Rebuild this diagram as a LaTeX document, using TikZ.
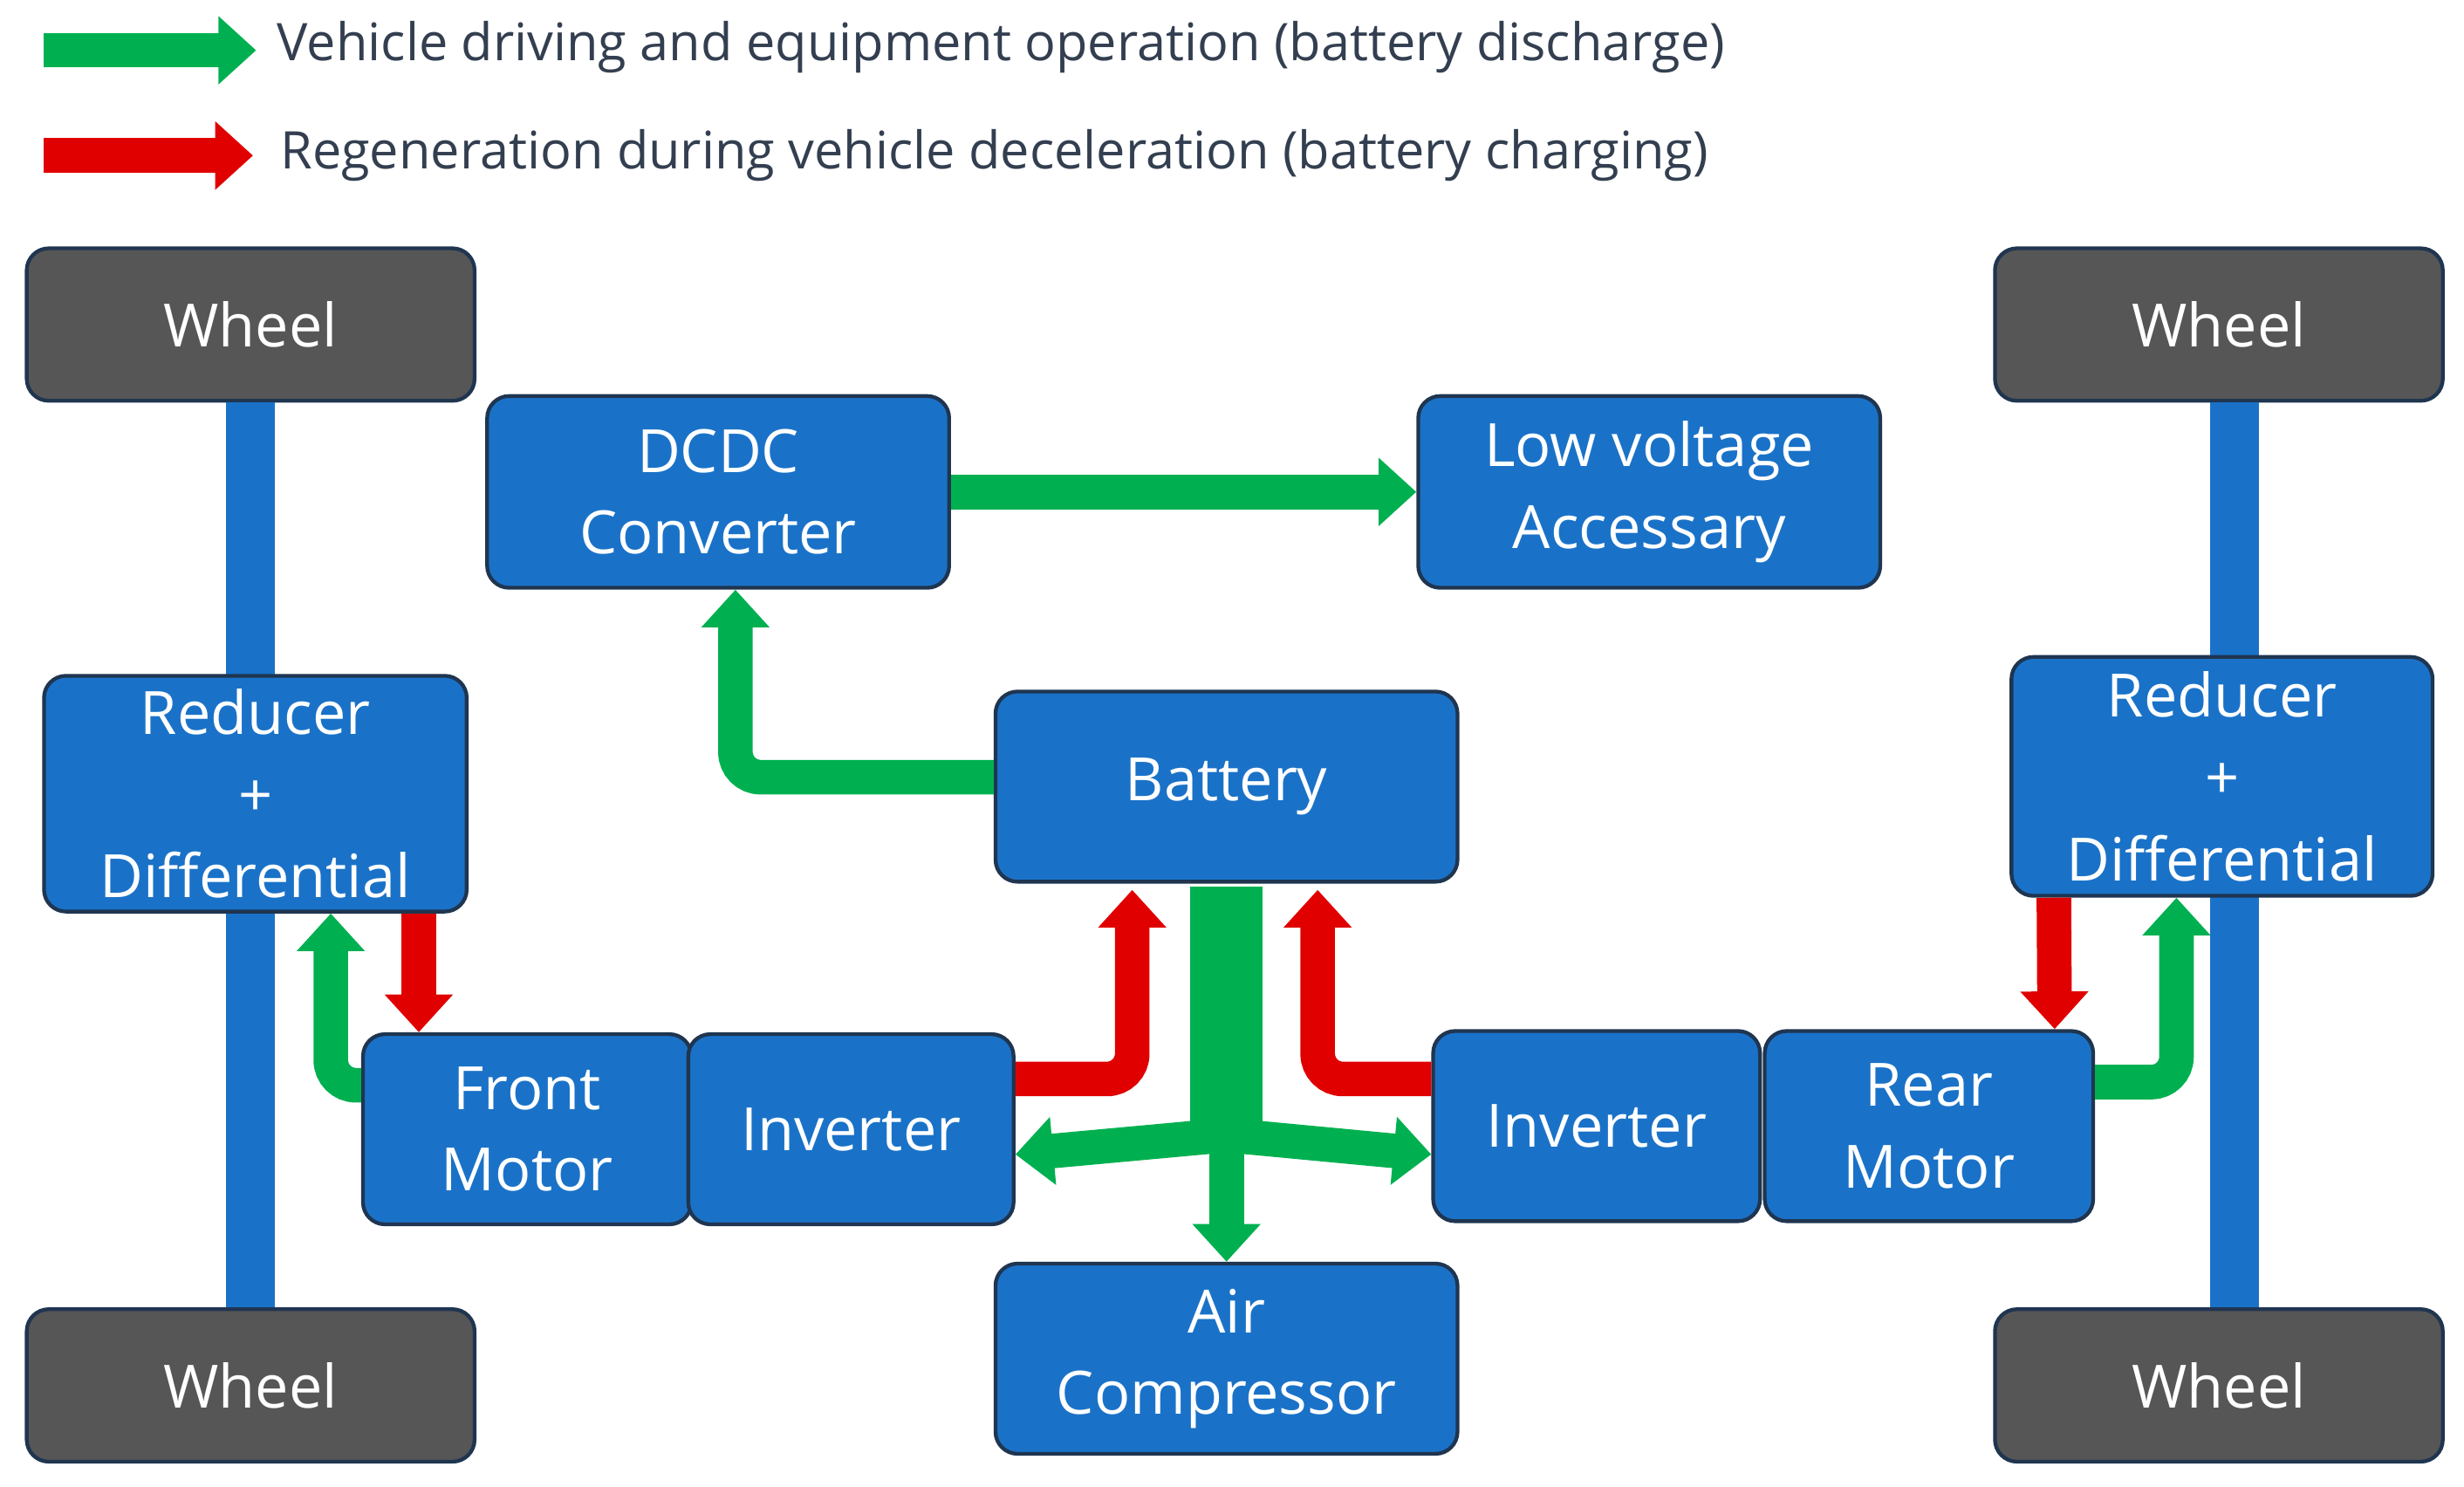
\documentclass[tikz,border=0pt]{standalone}
\usepackage{fontspec}
\setmainfont{Open Sans}
\usetikzlibrary{arrows.meta,calc}
\definecolor{bx}{HTML}{1A72C8}
\definecolor{bd}{HTML}{1F3550}
\definecolor{wh}{HTML}{565656}
\definecolor{gr}{HTML}{00B050}
\definecolor{rd}{HTML}{E00000}
\definecolor{tx}{HTML}{333F50}
\begin{document}
\begin{tikzpicture}[x=0.5pt,y=-0.5pt,
 box/.style={draw=bd,line width=1.2pt,fill=bx,rounded corners=7pt,text=white,align=center,font=\fontsize{19}{26}\selectfont,inner sep=0pt},
 whl/.style={box,fill=wh},
 g/.style={draw=gr,line width=11pt,rounded corners=8pt,-{Triangle[width=21pt,length=12pt]}},
 r/.style={g,draw=rd},
 axle/.style={draw=bx,line width=15.5pt}]
\useasboundingbox (0,0) rectangle (1568,946);
% wheels
\node[whl,minimum width=142.5pt,minimum height=48.5pt] (wtl) at (159.5,206.5) {Wheel};
\node[whl,minimum width=142.5pt,minimum height=48.5pt] (wbl) at (159.5,881.5) {Wheel};
\node[whl,minimum width=142.5pt,minimum height=48.5pt] (wtr) at (1412,206.5) {Wheel};
\node[whl,minimum width=142.5pt,minimum height=48.5pt] (wbr) at (1412,881.5) {Wheel};
\draw[axle] (wtl.south) -- (wbl.north);
\draw[axle] ($(wtr.south)+(10,0)$) -- ($(wbr.north)+(10,0)$);
\node[box,minimum width=134.5pt,minimum height=75pt] (rl) at (162.5,505) {Reducer\\+\\Differential};
\node[box,minimum width=134pt,minimum height=76pt] (rr) at (1414,494) {Reducer\\+\\Differential};
\node[box,minimum width=147pt,minimum height=61pt] (dc) at (457,313) {DCDC\\Converter};
\node[box,minimum width=147pt,minimum height=61pt] (lv) at (1049.5,313) {Low voltage\\Accessary};
\node[box,minimum width=147pt,minimum height=60.5pt] (bat) at (780.5,500.5) {Battery};
\node[box,minimum width=147pt,minimum height=60.5pt] (air) at (780.5,864.5) {Air\\Compressor};
\node[box,minimum width=104.5pt,minimum height=60.5pt] (fm) at (335.5,718.5) {Front\\Motor};
\node[box,minimum width=103.5pt,minimum height=60.5pt] (il) at (541.5,718.5) {Inverter};
\node[box,minimum width=104pt,minimum height=60.5pt] (ir) at (1016,716.5) {Inverter};
\node[box,minimum width=104.5pt,minimum height=60.5pt] (rm) at (1227.5,716.5) {Rear\\Motor};
% legend
\coordinate (lg1) at (28,32); \coordinate (lg1e) at (163,32);
\coordinate (lg2) at (28,99); \coordinate (lg2e) at (161,99);
\draw[g] (lg1) -- (lg1e);
\draw[r] (lg2) -- (lg2e);
\node[anchor=west,text=tx,font=\fontsize{16.5}{20}\selectfont,inner sep=0pt] (t1) at (176,30) {Vehicle driving and equipment operation (battery discharge)};
\node[anchor=west,text=tx,font=\fontsize{16.5}{20}\selectfont,inner sep=0pt] (t2) at (178,99) {Regeneration during vehicle deceleration (battery charging)};
% arrows
\draw[g] (dc.east) -- (lv.west);
\draw[g] ($(bat.west)+(0,-6)$) -| ($(dc.south)+(11,0)$);
\draw[draw=gr,line width=23pt] ($(bat.south)+(0,2)$) -- ($(bat.south)+(0,172)$);
\draw[g] ($(bat.south)+(0,160)$) -- ($(il.east)+(0,16)$);
\draw[g] ($(bat.south)+(0,160)$) -- ($(ir.west)+(0,18)$);
\draw[g] ($(bat.south)+(0,170)$) -- (air.north);
\draw[r] ($(il.east)+(0,-32)$) -| ($(bat.south)+(-60,4)$);
\draw[r] ($(ir.west)+(0,-30)$) -| ($(bat.south)+(58,4)$);
\draw[g] ($(fm.west)+(0,-28)$) -| ($(rl.south)+(48,0)$);
\draw[r] ($(rl.south)+(104,0)$) -- ($(fm.north)+(-69,0)$);
\draw[r] ($(rr.south)+(-107,0)$) -- ($(rm.north)+(80,0)$);
\draw[g] ($(rm.east)+(0,-28)$) -| ($(rr.south)+(-29,0)$);
\end{tikzpicture}
\end{document}
